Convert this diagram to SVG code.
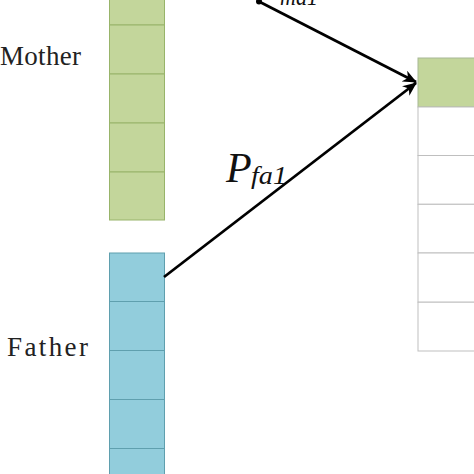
<svg xmlns="http://www.w3.org/2000/svg" width="474" height="474" viewBox="0 0 474 474">
<defs>
<style>
.m{fill:#c3d69b;stroke:#98b46a;stroke-width:1}
.f{fill:#92cddc;stroke:#5f9fae;stroke-width:1}
.c{fill:#ffffff;stroke:#bfbfbf;stroke-width:1}
.g{fill:#c3d69b;stroke:#a8b896;stroke-width:1}
.lbl{font-family:"Liberation Serif",serif;font-size:27px;fill:#222}
.p{font-family:"Liberation Serif",serif;font-style:italic;fill:#111}
.edge{stroke:#000;stroke-width:2.8;fill:none;marker-end:url(#ah)}
</style>
<marker id="ah" viewBox="0 0 14 12" refX="13" refY="6" markerWidth="14" markerHeight="12" markerUnits="userSpaceOnUse" orient="auto">
<path d="M0,0 L14,6 L0,12 L4,6 Z" fill="#000"/>
</marker>
</defs>
<rect width="474" height="474" fill="#fff"/>
<g id="mother">
<rect class="m" x="109.5" y="-24" width="55" height="49"/>
<rect class="m" x="109.5" y="25" width="55" height="49"/>
<rect class="m" x="109.5" y="74" width="55" height="49"/>
<rect class="m" x="109.5" y="123" width="55" height="49"/>
<rect class="m" x="109.5" y="172" width="55" height="48"/>
<text class="lbl" x="0" y="65" textLength="81" lengthAdjust="spacing">Mother</text>
</g>
<g id="father">
<rect class="f" x="109.5" y="253" width="55" height="48.5"/>
<rect class="f" x="109.5" y="301.5" width="55" height="49"/>
<rect class="f" x="109.5" y="350.5" width="55" height="49"/>
<rect class="f" x="109.5" y="399.5" width="55" height="49"/>
<rect class="f" x="109.5" y="448.5" width="55" height="40"/>
<text class="lbl" x="7" y="356" textLength="81" lengthAdjust="spacing">Father</text>
</g>
<g id="child">
<rect class="g" x="418" y="58" width="70" height="49"/>
<rect class="c" x="418" y="107" width="70" height="48.5"/>
<rect class="c" x="418" y="155.5" width="70" height="48.8"/>
<rect class="c" x="418" y="204.3" width="70" height="48.7"/>
<rect class="c" x="418" y="253" width="70" height="49.2"/>
<rect class="c" x="418" y="302.2" width="70" height="48.8"/>
</g>
<g id="connectors">
<path class="edge" d="M258,1 L416,82"/>
<path class="edge" d="M164,277 L416,83"/>
<circle cx="259" cy="1.5" r="3" fill="#000"/>
<text class="p" x="226" y="182" font-size="42">P</text>
<text class="p" x="251" y="184" font-size="25" textLength="36" lengthAdjust="spacingAndGlyphs">fa1</text>
<text class="p" x="280" y="5" font-size="25" textLength="38" lengthAdjust="spacingAndGlyphs">ma1</text>
</g>
</svg>
